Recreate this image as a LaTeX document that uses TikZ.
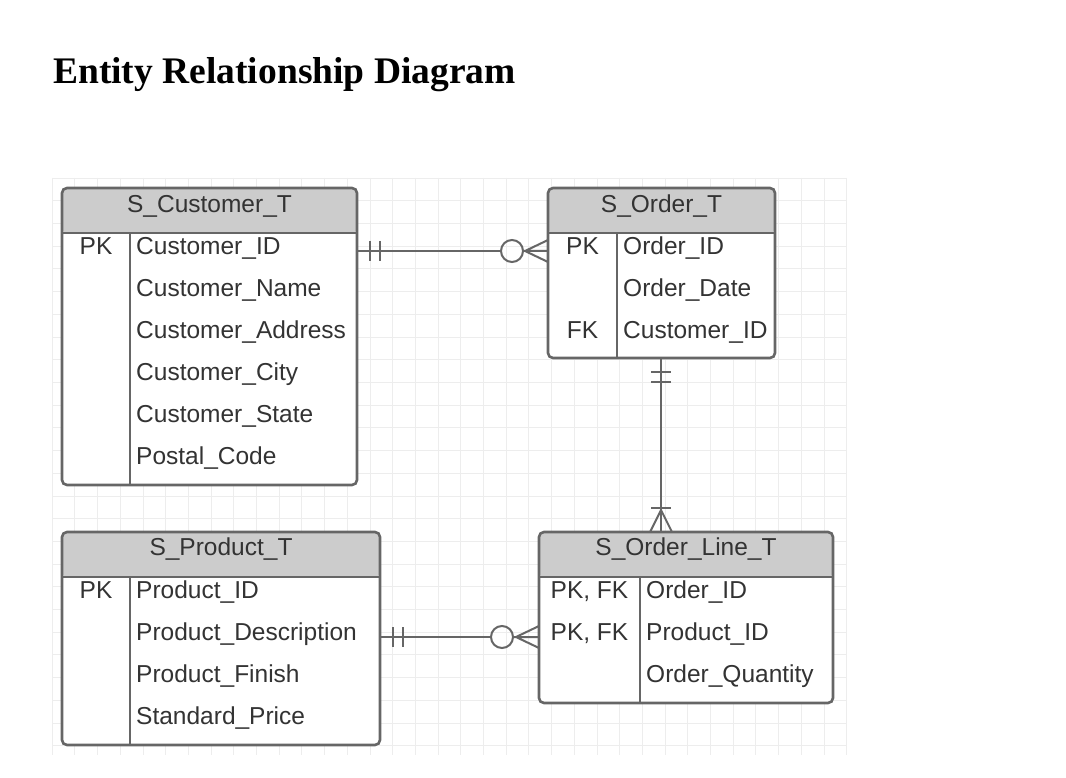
\documentclass[tikz,border=0pt]{standalone}
\usepackage{fontspec}
\setmainfont{Liberation Sans}
\newfontfamily\titlefont{Liberation Serif}
\begin{document}
\begin{tikzpicture}[x=1pt,y=-1pt,
  bd/.style={draw=bdc,line width=2.6pt},
  txt/.style={font=\fontsize{24.5}{28}\selectfont,text=black!80,inner sep=0pt,text height=0.72em,text depth=0pt,anchor=west},
  key/.style={font=\fontsize{24.5}{28}\selectfont,text=black!80,inner sep=0pt,text height=0.72em,text depth=0pt},
  ln/.style={draw=bdc,line width=2pt}]
\definecolor{bdc}{HTML}{666666}
\definecolor{hdr}{HTML}{CCCCCC}
\definecolor{grd}{HTML}{EDEDED}
\useasboundingbox (0,0) rectangle (1066,778);
\fill[white] (0,0) rectangle (1066,778);
% grid
\foreach \i in {0,...,35} \draw[grd,line width=0.6pt] (52+\i*22.7,178) -- (52+\i*22.7,755);
\foreach \j in {0,...,25} \draw[grd,line width=0.6pt] (52,178+\j*22.7) -- (846,178+\j*22.7);
\node[anchor=west,inner sep=0pt,font=\titlefont\bfseries\fontsize{37.5}{42}\selectfont] (title) at (53,75) {Entity Relationship Diagram};
% Customer
\fill[white,rounded corners=5pt] (62,188) rectangle (357,485);
\fill[hdr,rounded corners=5pt] (62,188) rectangle (357,233);
\draw[bd] (62,233) -- (357,233) (130,233) -- (130,485);
\draw[bd,rounded corners=5pt] (62,188) rectangle (357,485);
\coordinate (cust) at (357,251);
\node[key] (ch) at (209.5,209) {S\_Customer\_T};
\node[key] (c0) at (96,251) {PK};
\node[txt] (c1) at (136,251) {Customer\_ID};
\node[txt] (c2) at (136,293) {Customer\_Name};
\node[txt] (c3) at (136,335) {Customer\_Address};
\node[txt] (c4) at (136,377) {Customer\_City};
\node[txt] (c5) at (136,419) {Customer\_State};
\node[txt] (c6) at (136,461) {Postal\_Code};
% Order
\fill[white,rounded corners=5pt] (548,188) rectangle (775,358);
\fill[hdr,rounded corners=5pt] (548,188) rectangle (775,233);
\draw[bd] (548,233) -- (775,233) (617,233) -- (617,358);
\draw[bd,rounded corners=5pt] (548,188) rectangle (775,358);
\coordinate (ordL) at (548,251);
\coordinate (ordB) at (661,358);
\node[key] (oh) at (661.5,209) {S\_Order\_T};
\node[key] (o0) at (582.5,251) {PK};
\node[key] (o00) at (582.5,335) {FK};
\node[txt] (o1) at (623,251) {Order\_ID};
\node[txt] (o2) at (623,293) {Order\_Date};
\node[txt] (o3) at (623,335) {Customer\_ID};
% Product
\fill[white,rounded corners=5pt] (62,532) rectangle (380,745);
\fill[hdr,rounded corners=5pt] (62,532) rectangle (380,577);
\draw[bd] (62,577) -- (380,577) (130,577) -- (130,745);
\draw[bd,rounded corners=5pt] (62,532) rectangle (380,745);
\coordinate (prod) at (380,637);
\node[key] (ph) at (221,552) {S\_Product\_T};
\node[key] (p0) at (96,595) {PK};
\node[txt] (p1) at (136,595) {Product\_ID};
\node[txt] (p2) at (136,637) {Product\_Description};
\node[txt] (p3) at (136,679) {Product\_Finish};
\node[txt] (p4) at (136,721) {Standard\_Price};
% Order line
\fill[white,rounded corners=5pt] (539,532) rectangle (833,703);
\fill[hdr,rounded corners=5pt] (539,532) rectangle (833,577);
\draw[bd] (539,577) -- (833,577) (640,577) -- (640,703);
\draw[bd,rounded corners=5pt] (539,532) rectangle (833,703);
\coordinate (olT) at (661,532);
\coordinate (olL) at (539,637);
\node[key] (lh) at (686,552) {S\_Order\_Line\_T};
\node[key] (l0) at (589.5,595) {PK, FK};
\node[key] (l00) at (589.5,637) {PK, FK};
\node[txt] (l1) at (646,595) {Order\_ID};
\node[txt] (l2) at (646,637) {Product\_ID};
\node[txt] (l3) at (646,679) {Order\_Quantity};
% connector 1
\draw[ln] (cust) -- (501,251);
\draw[ln] (370,241) -- (370,261) (380,241) -- (380,261);
\draw[ln] (512,251) circle (11);
\draw[ln] (523,251) -- (ordL) (525,251) -- (548,240) (525,251) -- (548,262);
% connector 2
\draw[ln] (ordB) -- (olT);
\draw[ln] (651,372) -- (671,372) (651,382) -- (671,382) (651,508) -- (671,508);
\draw[ln] (661,510) -- (650,532) (661,510) -- (672,532);
% connector 3
\draw[ln] (prod) -- (491,637);
\draw[ln] (393,627) -- (393,647) (403,627) -- (403,647);
\draw[ln] (502,637) circle (11);
\draw[ln] (513,637) -- (olL) (516,637) -- (539,626) (516,637) -- (539,648);
\end{tikzpicture}
\end{document}
